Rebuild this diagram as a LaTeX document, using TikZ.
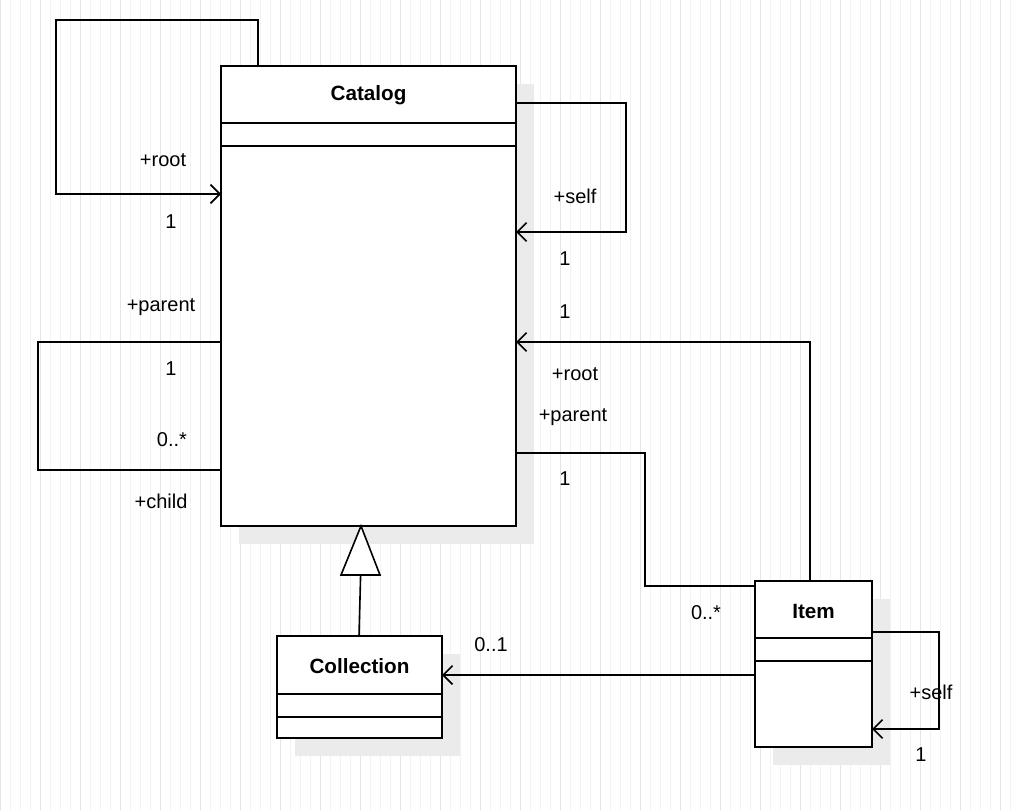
\documentclass[tikz,border=0pt]{standalone}
\usepackage{fontspec}
\setmainfont{Liberation Sans}
\usetikzlibrary{arrows.meta}
\begin{document}
\begin{tikzpicture}[x=0.75pt,y=-0.75pt,
  box/.style={draw,line width=1.2pt,fill=white},
  shadow/.style={fill=black!8,draw=none},
  conn/.style={line width=1.2pt},
  arr/.style={conn,-{Straight Barb[length=7pt,width=14pt,line width=1.2pt]}},
  lbl/.style={font=\fontsize{15}{18}\selectfont,inner sep=0pt},
  ttl/.style={font=\fontsize{15.5}{18}\selectfont\bfseries,inner sep=0pt}]
\useasboundingbox (0,0) rectangle (1019,810);
\fill[white] (0,0) rectangle (1019,810);
\draw[black!5,line width=0.3pt,step=10] (0,0) grid (1019,810);
\draw[black!10,line width=0.4pt,step=40] (0,0) grid (1019,810);
% shadows
\fill[shadow] (239,84) rectangle (534,544);
\fill[shadow] (295,654) rectangle (460,756);
\fill[shadow] (773,599) rectangle (890,765);
% classes
\draw[box] (221,66) rectangle (516,526);
\draw[conn] (221,123) -- (516,123) (221,146) -- (516,146);
\node[ttl] (cat) at (368.5,95) {Catalog};
\draw[box] (277,636) rectangle (442,738);
\draw[conn] (277,694) -- (442,694) (277,717) -- (442,717);
\node[ttl] (col) at (359.5,666) {Collection};
\draw[box] (755,581) rectangle (872,747);
\draw[conn] (755,638) -- (872,638) (755,661) -- (872,661);
\node[ttl] (item) at (813.5,611) {Item};
\coordinate (a1) at (258,66); \coordinate (a2) at (221,194);
\draw[arr] (a1) -- (258,20) -- (56,20) -- (56,194) -- (a2);
\node[lbl] at (163,160) {+root}; \node[lbl] at (171,222) {1};
\coordinate (b1) at (516,103); \coordinate (b2) at (516,232);
\draw[arr] (b1) -- (626,103) -- (626,232) -- (b2);
\node[lbl] at (575,196) {+self}; \node[lbl] at (565,259) {1};
\coordinate (c1) at (221,342); \coordinate (c2) at (221,470);
\draw[conn] (c1) -- (38,342) -- (38,470) -- (c2);
\node[lbl] at (161,307) {+parent}; \node[lbl] at (171,369) {1};
\node[lbl] at (172,440) {0..*}; \node[lbl] at (161,501) {+child};
\coordinate (d1) at (810,581); \coordinate (d2) at (516,342);
\draw[arr] (d1) -- (810,342) -- (d2);
\node[lbl] at (565,312) {1}; \node[lbl] at (575,374) {+root};
\coordinate (e1) at (516,453); \coordinate (e2) at (755,586);
\draw[conn] (e1) -- (645,453) -- (645,586) -- (e2);
\node[lbl] at (573,417) {+parent}; \node[lbl] at (565,479) {1};
\node[lbl] at (706,613) {0..*};
\coordinate (g1) at (359,636); \coordinate (g2) at (361,526);
\draw[conn] (g1) -- (360.6,575);
\draw[conn,fill=white] (341,575) -- (361,526) -- (380,575) -- cycle;
\coordinate (h1) at (755,675); \coordinate (h2) at (442,675);
\draw[arr] (h1) -- (h2);
\node[lbl] at (491,645) {0..1};
\coordinate (i1) at (872,632); \coordinate (i2) at (872,729);
\draw[arr] (i1) -- (939,632) -- (939,729) -- (i2);
\node[lbl] at (931,692) {+self}; \node[lbl] at (921,755) {1};
\end{tikzpicture}
\end{document}
